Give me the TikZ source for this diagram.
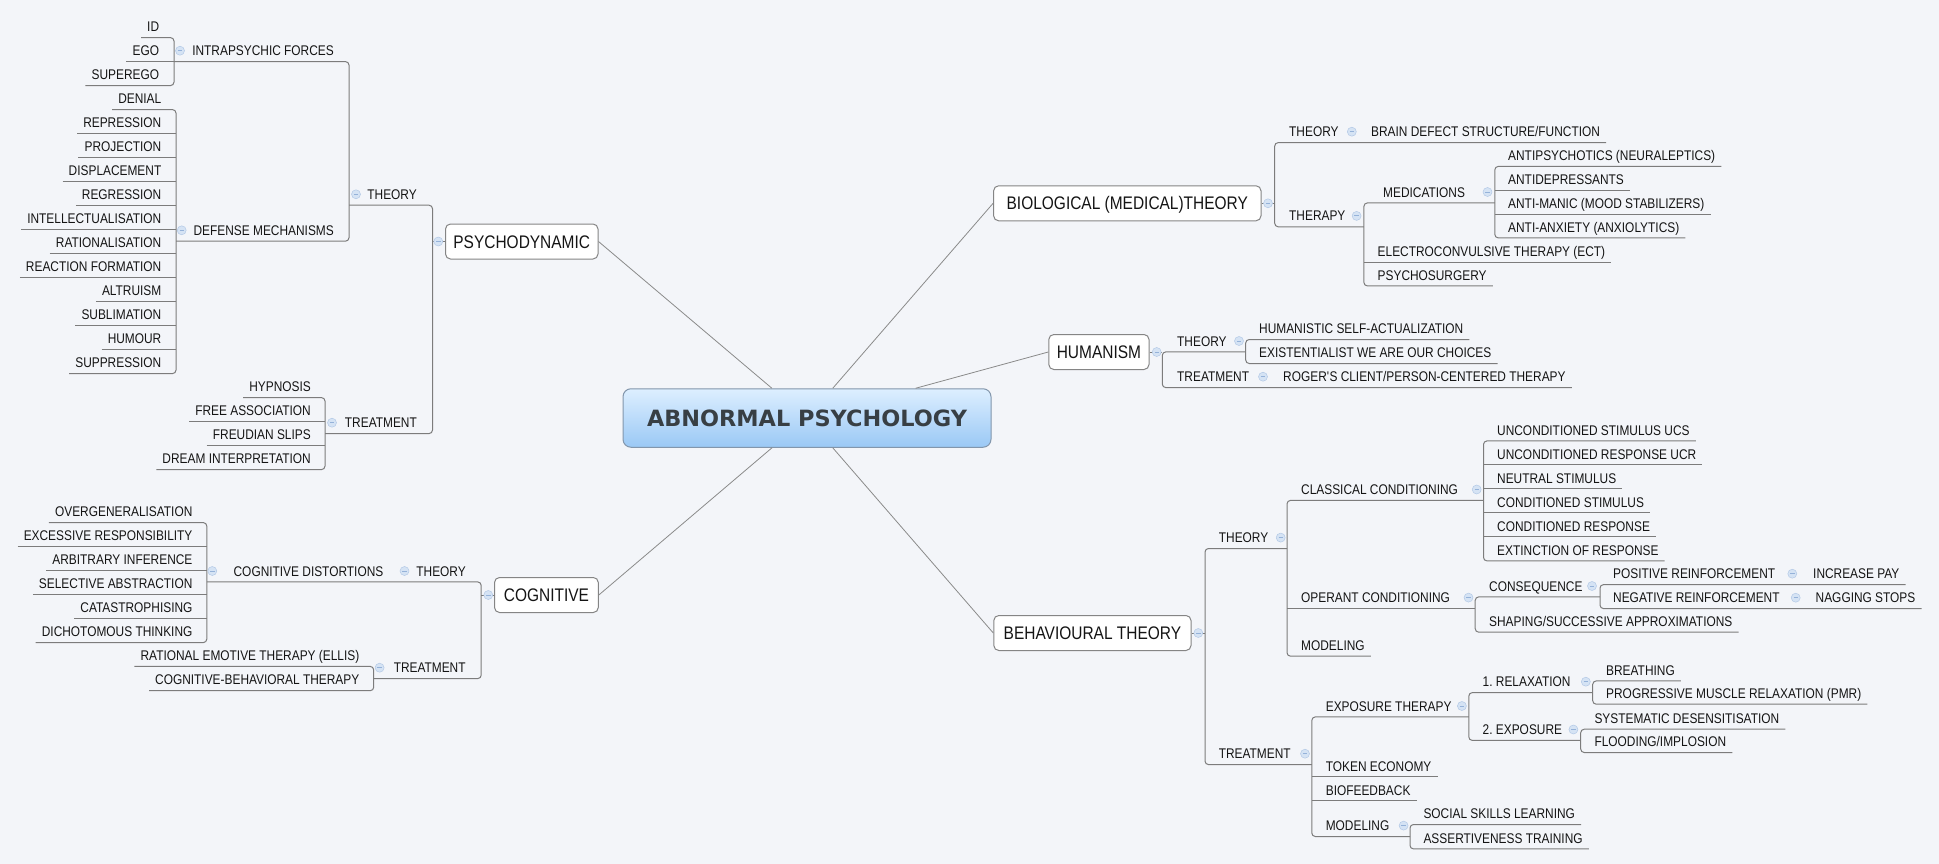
\documentclass[tikz,border=0pt]{standalone}
\usepackage{fontspec}
\setmainfont{Liberation Sans}
\newfontfamily\leaffont[FakeStretch=0.85]{Liberation Sans}
\newfontfamily\rootfont{DejaVu Sans}
\definecolor{bgc}{HTML}{F3F5F9}
\definecolor{linec}{HTML}{7C7C7C}
\definecolor{clc}{HTML}{8A8A8A}
\definecolor{boxc}{HTML}{858585}
\definecolor{txtc}{HTML}{141414}
\definecolor{rtop}{HTML}{DDEFFF}
\definecolor{rbot}{HTML}{9AC8F5}
\definecolor{rootb}{HTML}{8296AC}
\definecolor{roottxt}{HTML}{383F44}
\definecolor{iconf}{HTML}{D5E3F4}
\definecolor{icond}{HTML}{B3C9E6}
\definecolor{iconm}{HTML}{95B2D9}
\tikzset{
  tx/.style={font=\leaffont\fontsize{14}{16}\selectfont, text=txtc, inner xsep=6pt, inner ysep=5.7pt, text height=10pt, text depth=0pt},
  ln/.style={draw=linec, line width=1pt},
  rc/.style={rounded corners=3.5pt},
  cl/.style={draw=clc, line width=0.8pt},
  topic/.style={draw=boxc, fill=white, rounded corners=5pt, line width=1pt, font=\leaffont\fontsize{18.2}{20}\selectfont, text=txtc, inner sep=0pt, minimum height=35pt, text height=13pt, text depth=0pt},
  icon/.style={circle, inner sep=0pt, minimum size=9pt, fill=iconf, draw=icond, line width=0.5pt,
    path picture={\draw[iconm, line width=0.9pt] ([xshift=-2.2pt]path picture bounding box.center) -- ([xshift=2.2pt]path picture bounding box.center);}}
}
\newcommand\RN[4]{\node[tx,anchor=west] (#1) at (#2-6,#3) {#4};}
\newcommand\LN[4]{\node[tx,anchor=east] (#1) at (#2+6,#3) {#4};}
\newcommand\IC[3]{\node[icon] (#1) at (#2,#3) {};}
\begin{document}
\begin{tikzpicture}[x=1pt,y=-1pt]
\fill[bgc] (0,0) rectangle (1939,864);
\useasboundingbox (0,0) rectangle (1939,864);

% ---------- root and main topics ----------
\node[draw=rootb, line width=1pt, rounded corners=8pt, top color=rtop, bottom color=rbot, minimum width=368pt, minimum height=58.5pt, inner sep=0pt,
  font=\rootfont\bfseries\fontsize{22.4}{26}\selectfont, text=roottxt] (root) at (807,418) {ABNORMAL PSYCHOLOGY};
\node[topic, minimum width=152.5pt] (psy) at (521.75,241.5) {PSYCHODYNAMIC};
\node[topic, minimum width=267.4pt] (bio) at (1127.3,203.3) {BIOLOGICAL (MEDICAL)THEORY};
\node[topic, minimum width=100.2pt] (hum) at (1098.9,352) {HUMANISM};
\node[topic, minimum width=103.8pt] (cog) at (546.4,595) {COGNITIVE};
\node[topic, minimum width=197.2pt] (beh) at (1092.4,633) {BEHAVIOURAL THEORY};

\draw[cl] (root) -- (psy.east);
\draw[cl] (root) -- (bio.west);
\draw[cl] (root) -- (hum.west);
\draw[cl] (root) -- (cog.east);
\draw[cl] (root) -- (beh.west);

% ---------- bracket coordinates ----------
\coordinate (bI) at (174,0);
\coordinate (bD) at (176,0);
\coordinate (bT) at (349,0);
\coordinate (bP) at (432.5,0);
\coordinate (bPT) at (325,0);
\coordinate (bC) at (481.2,0);
\coordinate (bCD) at (206.8,0);
\coordinate (bCT) at (373.7,0);
\coordinate (bB) at (1274.7,0);
\coordinate (bTh) at (1363.9,0);
\coordinate (bM) at (1494.8,0);
\coordinate (bH) at (1162.3,0);
\coordinate (bHT) at (1245.7,0);
\coordinate (bBe) at (1205,0);
\coordinate (bBT) at (1287,0);
\coordinate (bCl) at (1483.5,0);
\coordinate (bOp) at (1475.2,0);
\coordinate (bCo) at (1600,0);
\coordinate (bBTr) at (1311.8,0);
\coordinate (bEx) at (1468.8,0);
\coordinate (bRe) at (1592.7,0);
\coordinate (bE2) at (1580.7,0);
\coordinate (bMo) at (1410,0);

% ---------- PSYCHODYNAMIC ----------
\LN{ptheory}{417}{194.3}{THEORY}
\LN{ptreat}{417}{422.7}{TREATMENT}
\LN{intra}{334}{50.7}{INTRAPSYCHIC FORCES}
\LN{defense}{334}{230.3}{DEFENSE MECHANISMS}
\LN{id}{159.3}{26.7}{ID}
\LN{ego}{159.3}{50.7}{EGO}
\LN{superego}{159.3}{74.7}{SUPEREGO}
\LN{denial}{161.5}{98.7}{DENIAL}
\LN{repression}{161.5}{122.7}{REPRESSION}
\LN{projection}{161.5}{146.7}{PROJECTION}
\LN{displacement}{161.5}{170.7}{DISPLACEMENT}
\LN{regression}{161.5}{194.7}{REGRESSION}
\LN{intellect}{161.5}{218.7}{INTELLECTUALISATION}
\LN{rationalis}{161.5}{242.7}{RATIONALISATION}
\LN{reaction}{161.5}{266.7}{REACTION FORMATION}
\LN{altruism}{161.5}{290.7}{ALTRUISM}
\LN{sublimation}{161.5}{314.7}{SUBLIMATION}
\LN{humour}{161.5}{338.7}{HUMOUR}
\LN{suppression}{161.5}{362.7}{SUPPRESSION}
\LN{hypnosis}{311}{386.7}{HYPNOSIS}
\LN{freeassoc}{311}{410.7}{FREE ASSOCIATION}
\LN{freudian}{311}{434.7}{FREUDIAN SLIPS}
\LN{dream}{311}{458.7}{DREAM INTERPRETATION}

\draw[ln] (psy.west) -- (bP |- psy.west);
\draw[ln,rc] (bT |- ptheory.south) -- (bP |- ptheory.south) -- (bP |- ptreat.south) -- (bPT |- ptreat.south);
\draw[ln,rc] (bI |- intra.south) -- (bT |- intra.south) -- (bT |- defense.south) -- (bD |- defense.south);
\draw[ln,rc] (id.south west) -- (bI |- id.south) -- (bI |- superego.south) -- (superego.south west);
\draw[ln] (ego.south west) -- (bI |- ego.south);
\draw[ln,rc] (denial.south west) -- (bD |- denial.south) -- (bD |- suppression.south) -- (suppression.south west);
\foreach \n in {repression,projection,displacement,regression,intellect,rationalis,reaction,altruism,sublimation,humour}
  \draw[ln] (\n.south west) -- (bD |- \n.south);
\draw[ln,rc] (hypnosis.south west) -- (bPT |- hypnosis.south) -- (bPT |- dream.south) -- (dream.south west);
\draw[ln] (freeassoc.south west) -- (bPT |- freeassoc.south);
\draw[ln] (freudian.south west) -- (bPT |- freudian.south);

\IC{ipsy}{438.3}{241.5}
\IC{iptheory}{356}{194.3}
\IC{iptreat}{332}{422.7}
\IC{iintra}{180}{50.7}
\IC{idefense}{181.7}{230.3}

% ---------- COGNITIVE ----------
\LN{ctheory}{466}{571}{THEORY}
\LN{cdist}{383.5}{571}{COGNITIVE DISTORTIONS}
\LN{over}{192.6}{511.7}{OVERGENERALISATION}
\LN{excess}{192.6}{535.7}{EXCESSIVE RESPONSIBILITY}
\LN{arbitrary}{192.6}{559.7}{ARBITRARY INFERENCE}
\LN{selective}{192.6}{583.7}{SELECTIVE ABSTRACTION}
\LN{catastro}{192.6}{607.7}{CATASTROPHISING}
\LN{dicho}{192.6}{631.7}{DICHOTOMOUS THINKING}
\LN{ctreat}{465.8}{667.7}{TREATMENT}
\LN{ret}{359.5}{655.5}{RATIONAL EMOTIVE THERAPY (ELLIS)}
\LN{cbt}{359.5}{679.8}{COGNITIVE-BEHAVIORAL THERAPY}

\draw[ln] (cog.west) -- (bC |- cog.west);
\draw[ln,rc] (bCD |- ctheory.south) -- (bC |- ctheory.south) -- (bC |- ctreat.south) -- (bCT |- ctreat.south);
\draw[ln,rc] (over.south west) -- (bCD |- over.south) -- (bCD |- dicho.south) -- (dicho.south west);
\foreach \n in {excess,arbitrary,selective,catastro}
  \draw[ln] (\n.south west) -- (bCD |- \n.south);
\draw[ln,rc] (ret.south west) -- (bCT |- ret.south) -- (bCT |- cbt.south) -- (cbt.south west);

\IC{icog}{488.3}{595}
\IC{ictheory}{404.5}{571}
\IC{icdist}{212.3}{571}
\IC{ictreat}{379.6}{667.7}

% ---------- BIOLOGICAL ----------
\RN{btheory}{1289}{131.7}{THEORY}
\RN{brain}{1371}{131.7}{BRAIN DEFECT STRUCTURE/FUNCTION}
\RN{btherapy}{1289}{215.9}{THERAPY}
\RN{meds}{1383}{192}{MEDICATIONS}
\RN{antipsy}{1508}{155.5}{ANTIPSYCHOTICS (NEURALEPTICS)}
\RN{antidep}{1508}{179.8}{ANTIDEPRESSANTS}
\RN{antiman}{1508}{203.6}{ANTI-MANIC (MOOD STABILIZERS)}
\RN{antianx}{1508}{227}{ANTI-ANXIETY (ANXIOLYTICS)}
\RN{ect}{1377.5}{251.5}{ELECTROCONVULSIVE THERAPY (ECT)}
\RN{psysurg}{1377.5}{275}{PSYCHOSURGERY}

\draw[ln] (bio.east) -- (bB |- bio.east);
\draw[ln,rc] (brain.south east) -- (bB |- btheory.south) -- (bB |- btherapy.south) -- (bTh |- btherapy.south);
\draw[ln,rc] (bM |- meds.south) -- (bTh |- meds.south) -- (bTh |- psysurg.south) -- (psysurg.south east);
\draw[ln] (bTh |- ect.south) -- (ect.south east);
\draw[ln,rc] (antipsy.south east) -- (bM |- antipsy.south) -- (bM |- antianx.south) -- (antianx.south east);
\draw[ln] (bM |- antidep.south) -- (antidep.south east);
\draw[ln] (bM |- antiman.south) -- (antiman.south east);

\IC{ibio}{1268}{203.3}
\IC{ibtheory}{1351.8}{131.7}
\IC{ibtherapy}{1356.6}{215.9}
\IC{imeds}{1487.5}{192}

% ---------- HUMANISM ----------
\RN{htheory}{1177}{341}{THEORY}
\RN{hself}{1259}{328.6}{HUMANISTIC SELF-ACTUALIZATION}
\RN{hexist}{1259}{352.6}{EXISTENTIALIST WE ARE OUR CHOICES}
\RN{htreat}{1177}{376.7}{TREATMENT}
\RN{roger}{1283}{376.7}{ROGER\textquotesingle S CLIENT/PERSON-CENTERED THERAPY}

\draw[ln] (hum.east) -- (bH |- hum.east);
\draw[ln,rc] (bHT |- htheory.south) -- (bH |- htheory.south) -- (bH |- htreat.south) -- (roger.south east);
\draw[ln,rc] (hself.south east) -- (bHT |- hself.south) -- (bHT |- hexist.south) -- (hexist.south east);

\IC{ihum}{1156.7}{352}
\IC{ihtheory}{1239}{341}
\IC{ihtreat}{1263}{376.7}

% ---------- BEHAVIOURAL ----------
\RN{bhtheory}{1218.7}{537.6}{THEORY}
\RN{classical}{1301}{489.5}{CLASSICAL CONDITIONING}
\RN{ucs}{1497}{430}{UNCONDITIONED STIMULUS UCS}
\RN{ucr}{1497}{454}{UNCONDITIONED RESPONSE UCR}
\RN{neutral}{1497}{478}{NEUTRAL STIMULUS}
\RN{cs}{1497}{502}{CONDITIONED STIMULUS}
\RN{cr}{1497}{526}{CONDITIONED RESPONSE}
\RN{extinct}{1497}{550}{EXTINCTION OF RESPONSE}
\RN{operant}{1301}{597.6}{OPERANT CONDITIONING}
\RN{conseq}{1489}{586}{CONSEQUENCE}
\RN{posr}{1613}{573.7}{POSITIVE REINFORCEMENT}
\RN{incpay}{1813}{573.7}{INCREASE PAY}
\RN{negr}{1613}{597.7}{NEGATIVE REINFORCEMENT}
\RN{nagging}{1815.5}{597.7}{NAGGING STOPS}
\RN{shaping}{1489}{621.3}{SHAPING/SUCCESSIVE APPROXIMATIONS}
\RN{model1}{1301}{645.3}{MODELING}
\RN{bhtreat}{1218.6}{753.7}{TREATMENT}
\RN{exther}{1325.6}{706}{EXPOSURE THERAPY}
\RN{relax}{1482.5}{681.7}{1.\ RELAXATION}
\RN{breath}{1606}{670}{BREATHING}
\RN{pmr}{1606}{693.3}{PROGRESSIVE MUSCLE RELAXATION (PMR)}
\RN{expo}{1482.5}{729.5}{2.\ EXPOSURE}
\RN{sysdes}{1594.3}{718.3}{SYSTEMATIC DESENSITISATION}
\RN{flood}{1594.3}{741.6}{FLOODING/IMPLOSION}
\RN{token}{1325.6}{766}{TOKEN ECONOMY}
\RN{biofeed}{1325.6}{790}{BIOFEEDBACK}
\RN{model2}{1325.6}{825.6}{MODELING}
\RN{social}{1423.3}{813.6}{SOCIAL SKILLS LEARNING}
\RN{assert}{1423.3}{838}{ASSERTIVENESS TRAINING}

\draw[ln] (beh.east) -- (bBe |- beh.east);
\draw[ln,rc] (bBT |- bhtheory.south) -- (bBe |- bhtheory.south) -- (bBe |- bhtreat.south) -- (bBTr |- bhtreat.south);
\draw[ln,rc] (bCl |- classical.south) -- (bBT |- classical.south) -- (bBT |- model1.south) -- (model1.south east);
\draw[ln] (bBT |- operant.south) -- (bOp |- operant.south);
\draw[ln,rc] (ucs.south east) -- (bCl |- ucs.south) -- (bCl |- extinct.south) -- (extinct.south east);
\foreach \n in {ucr,neutral,cs,cr}
  \draw[ln] (bCl |- \n.south) -- (\n.south east);
\draw[ln,rc] (bCo |- conseq.south) -- (bOp |- conseq.south) -- (bOp |- shaping.south) -- (shaping.south east);
\draw[ln,rc] (incpay.south east) -- (bCo |- posr.south) -- (bCo |- negr.south) -- (nagging.south east);
\draw[ln,rc] (bEx |- exther.south) -- (bBTr |- exther.south) -- (bBTr |- model2.south) -- (bMo |- model2.south);
\draw[ln] (bBTr |- token.south) -- (token.south east);
\draw[ln] (bBTr |- biofeed.south) -- (biofeed.south east);
\draw[ln,rc] (bRe |- relax.south) -- (bEx |- relax.south) -- (bEx |- expo.south) -- (bE2 |- expo.south);
\draw[ln,rc] (breath.south east) -- (bRe |- breath.south) -- (bRe |- pmr.south) -- (pmr.south east);
\draw[ln,rc] (sysdes.south east) -- (bE2 |- sysdes.south) -- (bE2 |- flood.south) -- (flood.south east);
\draw[ln,rc] (social.south east) -- (bMo |- social.south) -- (bMo |- assert.south) -- (assert.south east);

\IC{ibeh}{1198.3}{633}
\IC{ibhtheory}{1280.7}{537.6}
\IC{iclassical}{1476.7}{489.5}
\IC{ioperant}{1468.5}{597.6}
\IC{iconseq}{1592}{586}
\IC{iposr}{1792.3}{573.7}
\IC{inegr}{1795.7}{597.7}
\IC{ibhtreat}{1305}{753.7}
\IC{iexther}{1461.9}{706}
\IC{irelax}{1585.8}{681.7}
\IC{iexpo}{1573.4}{729.5}
\IC{imodel2}{1403.6}{825.6}
\end{tikzpicture}
\end{document}
